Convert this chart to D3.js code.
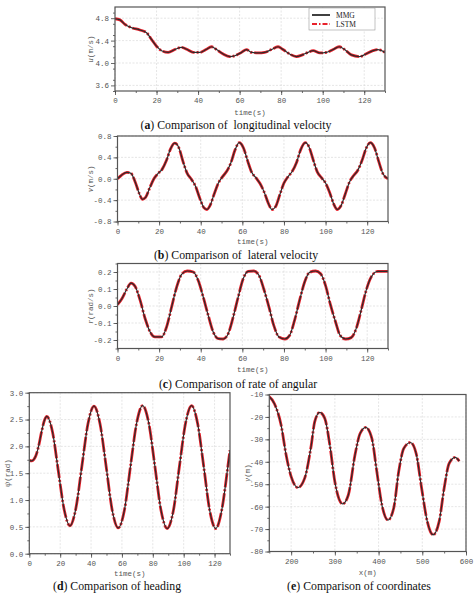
<!DOCTYPE html>
<html>
<head>
<meta charset="utf-8">
<script src="https://cdn.jsdelivr.net/npm/d3@7"></script>
<style>
  body { margin: 0; background: #fff; }
  svg { display: block; }
  .tick text { font-family: "Liberation Mono", monospace; font-size: 7.5px; fill: #555; }
  .tick line { stroke: #444; stroke-width: 0.8; }
  .caption { white-space: pre; }
</style>
</head>
<body>
<div id="chart"></div>
<script>
// ---- data ----
const uTime = [0, 2.4, 4.8, 8, 12, 15.2, 17.6, 20, 22.4, 25.6, 28.8, 32, 34.8, 37.7, 40.9, 43.8, 46.5, 48.9, 52.1, 55.3, 57.7, 60.9, 63.3, 65.7, 68.9, 72.1, 75.3, 78.5, 80.9, 84.1, 87.3, 90.2, 93, 95.4, 98.6, 101.8, 105, 107.9, 110.6, 113.8, 117.8, 121, 124.2, 126.6, 130];
const uValues = [4.79, 4.77, 4.69, 4.63, 4.59, 4.54, 4.42, 4.30, 4.22, 4.19, 4.24, 4.28, 4.24, 4.19, 4.19, 4.24, 4.29, 4.24, 4.16, 4.115, 4.13, 4.19, 4.24, 4.19, 4.18, 4.19, 4.24, 4.29, 4.24, 4.16, 4.115, 4.145, 4.19, 4.22, 4.18, 4.19, 4.24, 4.29, 4.24, 4.145, 4.115, 4.165, 4.22, 4.24, 4.19];

const vTime = [0, 2, 4.5, 6.5, 8.5, 10.5, 12, 13.5, 15.5, 17.5, 19.5, 21.5, 23.5, 25.5, 27.5, 29.5, 31.5, 33.5, 35.5, 37.5, 39.5, 41.5, 43, 44.5, 46.5, 48.5, 50.5, 52.5, 54.5, 56.5, 58.5, 60.5, 62.5, 64.5, 66.5, 68.5, 70.5, 72.5, 74.3, 76, 78, 80, 82, 84, 86, 88, 90.2, 92, 94, 96, 98, 100, 102, 104, 105.6, 107.5, 109.5, 111.5, 113.5, 115.5, 117.5, 119.5, 121.5, 123.5, 125.5, 127.5, 130];
const vValues = [0, 0.07, 0.12, 0.10, -0.06, -0.28, -0.385, -0.35, -0.17, 0.0, 0.1, 0.18, 0.34, 0.56, 0.665, 0.58, 0.32, 0.1, -0.01, -0.14, -0.36, -0.54, -0.575, -0.5, -0.28, -0.08, 0.04, 0.14, 0.3, 0.54, 0.675, 0.58, 0.34, 0.12, 0.02, -0.09, -0.25, -0.46, -0.575, -0.52, -0.3, -0.08, 0.04, 0.14, 0.3, 0.54, 0.675, 0.6, 0.36, 0.13, 0.02, -0.08, -0.26, -0.48, -0.575, -0.5, -0.28, -0.06, 0.06, 0.16, 0.34, 0.57, 0.675, 0.58, 0.33, 0.1, 0.0];

const rTime = [0, 2.1, 4.5, 6.5, 8.5, 10.9, 13.3, 15.7, 18, 21.2, 23.6, 26, 28.4, 30.8, 33.5, 36.4, 38.8, 41.2, 43.6, 46, 48.4, 50.8, 53.2, 55.6, 58, 60.4, 62.8, 65.5, 68, 70.3, 72.8, 75.1, 77.6, 80.4, 82.7, 85.1, 87.5, 89.9, 92.3, 95.2, 97.6, 100, 102.2, 104.8, 107, 109.6, 112.3, 114.7, 117.1, 119.5, 121.9, 125.1, 130];
const rValues = [0.008, 0.043, 0.10, 0.135, 0.115, 0.033, -0.075, -0.153, -0.182, -0.182, -0.123, -0.006, 0.11, 0.186, 0.206, 0.2, 0.15, 0.053, -0.055, -0.153, -0.192, -0.194, -0.163, -0.065, 0.053, 0.16, 0.204, 0.206, 0.18, 0.10, -0.006, -0.114, -0.182, -0.194, -0.173, -0.084, 0.033, 0.14, 0.198, 0.206, 0.19, 0.12, 0.014, -0.094, -0.173, -0.194, -0.186, -0.133, -0.025, 0.092, 0.17, 0.204, 0.204];

const psiTime = [0, 1.5, 4, 6, 8, 10, 11.3, 15.1, 18.8, 22.6, 26.3, 30.2, 34.1, 38.0, 41.9, 45.8, 49.8, 53.7, 57.6, 61.6, 65.5, 69.5, 73.4, 77.4, 81.4, 85.3, 89.3, 93.3, 97.2, 101.2, 105.1, 109.0, 113.0, 116.9, 120.8, 124.7, 128.6, 130];
const psiValues = [1.74, 1.73, 1.81, 2.0, 2.28, 2.50, 2.56, 2.26, 1.54, 0.82, 0.52, 0.85, 1.64, 2.42, 2.75, 2.42, 1.62, 0.81, 0.48, 0.81, 1.62, 2.43, 2.76, 2.43, 1.62, 0.81, 0.47, 0.80, 1.62, 2.43, 2.76, 2.43, 1.62, 0.80, 0.47, 0.82, 1.62, 1.93];

const trajX = [148, 161.5, 177, 188.5, 200, 215.4, 230.8, 246, 253.8, 265.4, 277, 288.5, 300, 317.7, 330.8, 346, 357.7, 370.8, 384.6, 396, 407.7, 421.5, 434.6, 446, 457.7, 473, 486, 498.5, 511.5, 524.6, 538.5, 550, 561.5, 575.4, 584.6];
const trajY = [-10.6, -14, -23.6, -37, -46.6, -51.5, -47.4, -32.6, -22.2, -18, -20.7, -32.6, -48.9, -58.8, -54.8, -37, -27.4, -24.7, -29.6, -44.4, -59.3, -66, -60.7, -44.4, -34, -31.4, -36.3, -51.8, -66.7, -72.6, -66.7, -51.8, -40.7, -38, -39.7];

const timeTicks = [0, 20, 40, 60, 80, 100, 120];
const uTicks = [3.6, 4.0, 4.4, 4.8];
const vTicks = [-0.8, -0.4, 0.0, 0.4, 0.8];
const rTicks = [-0.2, -0.1, 0.0, 0.1, 0.2];
const psiTicks = [0.0, 0.5, 1.0, 1.5, 2.0, 2.5, 3.0];
const trajXTicks = [200, 300, 400, 500, 600];
const trajYTicks = [-80, -70, -60, -50, -40, -30, -20, -10];
const seriesNames = ["MMG", "LSTM"];

// ---- drawing ----
const W = 474, H = 595;
const mmgColor = "#2b2b2b", lstmColor = "#e8212b";

const svg = d3.select("#chart").append("svg")
    .attr("width", W)
    .attr("height", H);

let clipId = 0;

function drawPanel(p) {
    let g = svg.append("g");

    let x = d3.scaleLinear().domain(p.xDomain).range([p.left, p.right]);
    let y = d3.scaleLinear().domain(p.yDomain).range([p.bottom, p.top]);

    // grid
    g.append("g").selectAll("line").data(p.xTicks).join("line")
        .attr("x1", d => x(d)).attr("x2", d => x(d))
        .attr("y1", p.top).attr("y2", p.bottom)
        .attr("stroke", "#d4d4d4").attr("stroke-width", 0.6)
        .attr("stroke-dasharray", "2,1.5");
    g.append("g").selectAll("line").data(p.yTicks).join("line")
        .attr("x1", p.left).attr("x2", p.right)
        .attr("y1", d => y(d)).attr("y2", d => y(d))
        .attr("stroke", "#d4d4d4").attr("stroke-width", 0.6)
        .attr("stroke-dasharray", "2,1.5");

    // minor ticks
    let xMinor = d3.range(p.xDomain[0], p.xDomain[1] + 1e-9, p.xMinorStep);
    let yMinor = d3.range(p.yDomain[0], p.yDomain[1] + 1e-9, p.yMinorStep);

    let xAxisMinor = d3.axisBottom(x).tickValues(xMinor).tickSize(2).tickFormat("");
    let yAxisMinor = d3.axisLeft(y).tickValues(yMinor).tickSize(2).tickFormat("");
    let xAxis = d3.axisBottom(x).tickValues(p.xTicks).tickSize(4).tickPadding(3).tickFormat(p.xFmt);
    let yAxis = d3.axisLeft(y).tickValues(p.yTicks).tickSize(4).tickPadding(2).tickFormat(p.yFmt);

    g.append("g").attr("transform", `translate(0,${p.bottom})`).call(xAxisMinor);
    g.append("g").attr("transform", `translate(${p.left},0)`).call(yAxisMinor);
    g.append("g").attr("transform", `translate(0,${p.bottom})`).call(xAxis);
    g.append("g").attr("transform", `translate(${p.left},0)`).call(yAxis);
    g.selectAll(".domain").remove();

    // lines
    clipId++;
    svg.append("clipPath").attr("id", "clip" + clipId)
        .append("rect")
        .attr("x", p.left).attr("y", p.top)
        .attr("width", p.right - p.left).attr("height", p.bottom - p.top);

    let pts = p.xs.map((d, i) => ({x: d, y: p.ys[i]}));
    let line = d3.line()
        .x(d => x(d.x))
        .y(d => y(d.y))
        .curve(d3.curveMonotoneX);

    let lines = g.append("g").attr("clip-path", `url(#clip${clipId})`);
    lines.append("path")
        .attr("d", line(pts))
        .attr("fill", "none")
        .attr("stroke", lstmColor)
        .attr("stroke-width", 2.8)
        .attr("stroke-dasharray", "14,2,2,2");
    lines.append("path")
        .attr("d", line(pts))
        .attr("fill", "none")
        .attr("stroke", mmgColor)
        .attr("stroke-width", 1.2);

    // frame
    g.append("rect")
        .attr("x", p.left).attr("y", p.top)
        .attr("width", p.right - p.left).attr("height", p.bottom - p.top)
        .attr("fill", "none")
        .attr("stroke", "#555")
        .attr("stroke-width", 1.2);

    // axis titles
    g.append("text")
        .attr("x", (p.left + p.right) / 2)
        .attr("y", p.bottom + p.xTitleOffset)
        .attr("text-anchor", "middle")
        .attr("font-family", "Liberation Mono, monospace")
        .attr("font-size", 7.5)
        .attr("fill", "#555")
        .text(p.xTitle);

    let yt = g.append("text")
        .attr("transform", `translate(${p.yTitleX},${(p.top + p.bottom) / 2}) rotate(-90)`)
        .attr("text-anchor", "middle")
        .attr("font-family", "Liberation Mono, monospace")
        .attr("font-size", 7.5)
        .attr("fill", "#555");
    yt.append("tspan").attr("font-style", "italic").attr("font-family", "Liberation Serif, serif")
        .attr("font-size", 8.5).text(p.yVar);
    yt.append("tspan").text(p.yUnit);

    // caption
    let cap = g.append("text")
        .attr("class", "caption")
        .attr("x", p.capX)
        .attr("y", p.capY)
        .attr("text-anchor", "middle")
        .attr("font-family", "Liberation Serif, serif")
        .attr("font-size", 11.8)
        .attr("fill", "#111");
    cap.append("tspan").text("(");
    cap.append("tspan").attr("font-weight", "bold").text(p.letter);
    cap.append("tspan").text(") " + p.caption);

    return {x: x, y: y, g: g};
}

let fmt1 = d => d.toFixed(1);
let fmt0 = d => d.toFixed(0);

drawPanel({
    left: 115, right: 385, top: 7, bottom: 91,
    xDomain: [0, 130], yDomain: [3.5, 5.0],
    xTicks: timeTicks, yTicks: uTicks, xMinorStep: 10, yMinorStep: 0.2,
    xFmt: fmt0, yFmt: fmt1, xs: uTime, ys: uValues,
    xTitle: "time(s)", xTitleOffset: 24, yVar: "u", yUnit: "(m/s)", yTitleX: 93,
    letter: "a", caption: "Comparison of  longitudinal velocity", capX: 236, capY: 129
});

drawPanel({
    left: 117.5, right: 388, top: 136, bottom: 221.5,
    xDomain: [0, 130], yDomain: [-0.8, 0.8],
    xTicks: timeTicks, yTicks: vTicks, xMinorStep: 10, yMinorStep: 0.2,
    xFmt: fmt0, yFmt: fmt1, xs: vTime, ys: vValues,
    xTitle: "time(s)", xTitleOffset: 22, yVar: "v", yUnit: "(m/s)", yTitleX: 93,
    letter: "b", caption: "Comparison of  lateral velocity", capX: 236, capY: 259
});

drawPanel({
    left: 117.5, right: 388, top: 263.5, bottom: 348.5,
    xDomain: [0, 130], yDomain: [-0.25, 0.25],
    xTicks: timeTicks, yTicks: rTicks, xMinorStep: 10, yMinorStep: 0.05,
    xFmt: fmt0, yFmt: fmt1, xs: rTime, ys: rValues,
    xTitle: "time(s)", xTitleOffset: 23, yVar: "r", yUnit: "(rad/s)", yTitleX: 93,
    letter: "c", caption: "Comparison of rate of angular", capX: 238, capY: 388
});

drawPanel({
    left: 29.3, right: 230, top: 392.7, bottom: 553.7,
    xDomain: [0, 130], yDomain: [0, 3.0],
    xTicks: timeTicks, yTicks: psiTicks, xMinorStep: 10, yMinorStep: 0.25,
    xFmt: fmt0, yFmt: fmt1, xs: psiTime, ys: psiValues,
    xTitle: "time(s)", xTitleOffset: 22, yVar: "ψ", yUnit: "(rad)", yTitleX: 10,
    letter: "d", caption: "Comparison of heading", capX: 117, capY: 590
});

drawPanel({
    left: 269.3, right: 466, top: 394.5, bottom: 551.5,
    xDomain: [150, 600], yDomain: [-80, -10],
    xTicks: trajXTicks, yTicks: trajYTicks, xMinorStep: 50, yMinorStep: 5,
    xFmt: fmt0, yFmt: fmt0, xs: trajX, ys: trajY,
    xTitle: "x(m)", xTitleOffset: 23, yVar: "y", yUnit: "(m)", yTitleX: 250,
    letter: "e", caption: "Comparison of coordinates", capX: 359, capY: 590
});

// legend in panel (a)
let leg = svg.append("g").attr("transform", "translate(309,8)");
leg.append("rect")
    .attr("width", 66).attr("height", 22)
    .attr("fill", "#fff")
    .attr("stroke", "#999")
    .attr("stroke-width", 0.6);
let legItems = leg.selectAll("g.item").data(seriesNames).join("g")
    .attr("class", "item")
    .attr("transform", (d, i) => `translate(3,${7 + i * 9})`);
legItems.append("line")
    .attr("x1", 0).attr("x2", 18)
    .attr("stroke", (d, i) => i === 0 ? mmgColor : lstmColor)
    .attr("stroke-width", (d, i) => i === 0 ? 1.8 : 2)
    .attr("stroke-dasharray", (d, i) => i === 0 ? null : "5,2,1.5,2");
legItems.append("text")
    .attr("x", 24).attr("y", 2.5)
    .attr("font-family", "Liberation Serif, serif")
    .attr("font-size", 7.5)
    .attr("fill", "#222")
    .text(d => d);
</script>
</body>
</html>
